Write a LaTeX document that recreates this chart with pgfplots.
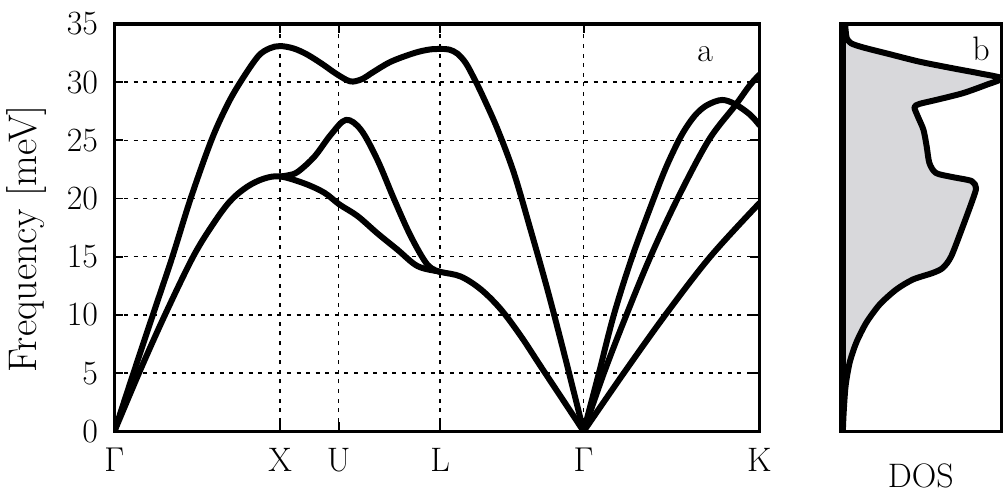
\documentclass[border=0pt]{standalone}
\usepackage{pgfplots}
\pgfplotsset{compat=1.18}
\definecolor{dosgray}{RGB}{216,216,219}
\begin{document}
\begin{tikzpicture}
\pgfplotsset{
  myaxis/.style={
    scale only axis,
    axis line style={line width=1.6pt},
    tick style={line width=0.9pt, black},
    major tick length=4.5pt,
    tick align=inside,
    ymin=0, ymax=35,
  },
  band/.style={black, line width=3pt, line join=round, line cap=round, smooth, tension=0.55},
}
\begin{axis}[myaxis, at={(0,0)}, anchor=south west, width=323pt, height=204pt,
  xmin=0, xmax=3.89261,
  xtick={0,1,1.35355,1.96592,2.83195,3.89261},
  xticklabels={$\Gamma$,X,U,L,$\Gamma$,K},
  ytick={0,5,...,35},
  grid=major,
  major grid style={black, line width=0.7pt, dash pattern=on 2pt off 2.8pt},
  /pgf/number format/assume math mode=true,
  tick label style={font=\fontsize{17}{20}\selectfont, inner sep=0pt},
  xticklabel style={anchor=base, yshift=-20pt},
  yticklabel style={anchor=east, xshift=-8pt},
  ylabel={Frequency [meV]},
  every axis y label/.style={at={(axis description cs:-0.1207,0.473)}, rotate=90, anchor=base, font=\fontsize{20}{24}\selectfont},
]
% upper branch Gamma-X-U-L-Gamma
\addplot[band] coordinates {(0,0) (0.115,5) (0.232,10) (0.35,15) (0.46,20) (0.585,25) (0.68,28) (0.76,30) (0.866,32.2) (0.936,32.9) (1.0,33.1) (1.08,32.9) (1.16,32.4) (1.25,31.6) (1.33,30.8) (1.40,30.2) (1.44,30.05) (1.50,30.3) (1.56,30.85) (1.669,31.76) (1.809,32.5) (1.90,32.8) (1.966,32.85) (2.02,32.8) (2.07,32.45) (2.12,31.65) (2.17,30.35) (2.22,28.9) (2.311,26.0) (2.411,22.2) (2.512,17.3) (2.613,12.2) (2.713,6.75) (2.832,0)};
% lower branch Gamma-X-U-L-Gamma
\addplot[band] coordinates {(0,0) (0.148,5) (0.305,10) (0.475,15) (0.6,17.9) (0.7,19.8) (0.8,21.0) (0.9,21.7) (1.0,21.9) (1.146,21.3) (1.267,20.5) (1.357,19.5) (1.467,18.5) (1.588,17.0) (1.709,15.6) (1.829,14.2) (1.966,13.7) (2.090,13.3) (2.211,12.2) (2.331,10.5) (2.452,8.2) (2.572,5.6) (2.693,3.0) (2.832,0)};
% middle branch X-U-L
\addplot[band] coordinates {(1.0,21.9) (1.05,22.0) (1.107,22.3) (1.207,23.6) (1.307,25.5) (1.398,26.76) (1.488,25.9) (1.588,23.3) (1.689,19.9) (1.789,16.75) (1.890,14.3) (1.966,13.7)};
% Gamma - K
\addplot[band] coordinates {(2.832,0) (2.924,5) (3.014,10) (3.125,15) (3.255,20) (3.33,22.7) (3.406,25) (3.46,26.3) (3.516,27.33) (3.58,28.05) (3.667,28.47) (3.747,28.1) (3.837,27.2) (3.893,26.3)};
\addplot[band] coordinates {(2.832,0) (2.954,5) (3.090,10) (3.235,15) (3.399,20) (3.586,25) (3.747,28.0) (3.833,29.7) (3.893,30.65)};
\addplot[band] coordinates {(2.832,0) (3.074,5) (3.325,10) (3.596,15) (3.893,19.61)};
\node[anchor=base, font=\fontsize{17}{20}\selectfont] at (axis cs:3.566,31.76) {a};
\end{axis}
\begin{axis}[myaxis, at={(363.5pt,0)}, anchor=south west, width=80.75pt, height=204pt,
  xmin=0, xmax=1, xtick=\empty, ytick=\empty,
  xlabel={DOS},
  every axis x label/.style={at={(axis description cs:0.5,0)}, anchor=base, yshift=-28pt, font=\fontsize{17}{20}\selectfont},
]
\addplot[draw=black, line width=3pt, line join=round, fill=dosgray, smooth, tension=0.45] coordinates {
(0.016,0) (0.021,1.6) (0.033,3.89) (0.058,5.89) (0.099,7.61) (0.161,9.32) (0.244,10.89) (0.347,12.18) (0.450,13.04) (0.574,13.61) (0.636,14.04) (0.688,15.03) (0.760,17.6) (0.821,19.9) (0.842,20.9) (0.815,21.5) (0.698,21.84) (0.594,22.19) (0.553,23.04) (0.536,24.47) (0.516,25.9) (0.481,27.05) (0.460,27.85) (0.491,28.13) (0.594,28.47) (0.760,29.05) (0.904,29.76) (1.0,30.33) (0.863,30.76) (0.698,31.19) (0.491,31.76) (0.285,32.48) (0.140,32.99) (0.068,33.33) (0.041,33.76) (0.033,34.48) (0.03,35)};
\addplot[black, line width=3pt] coordinates {(0.016,0) (0.016,35)};
\node[anchor=base, font=\fontsize{17}{20}\selectfont] at (axis cs:0.873,31.85) {b};
\end{axis}
\path (-56.5pt,-29pt) rectangle (446.5pt,216pt);
\end{tikzpicture}
\end{document}
